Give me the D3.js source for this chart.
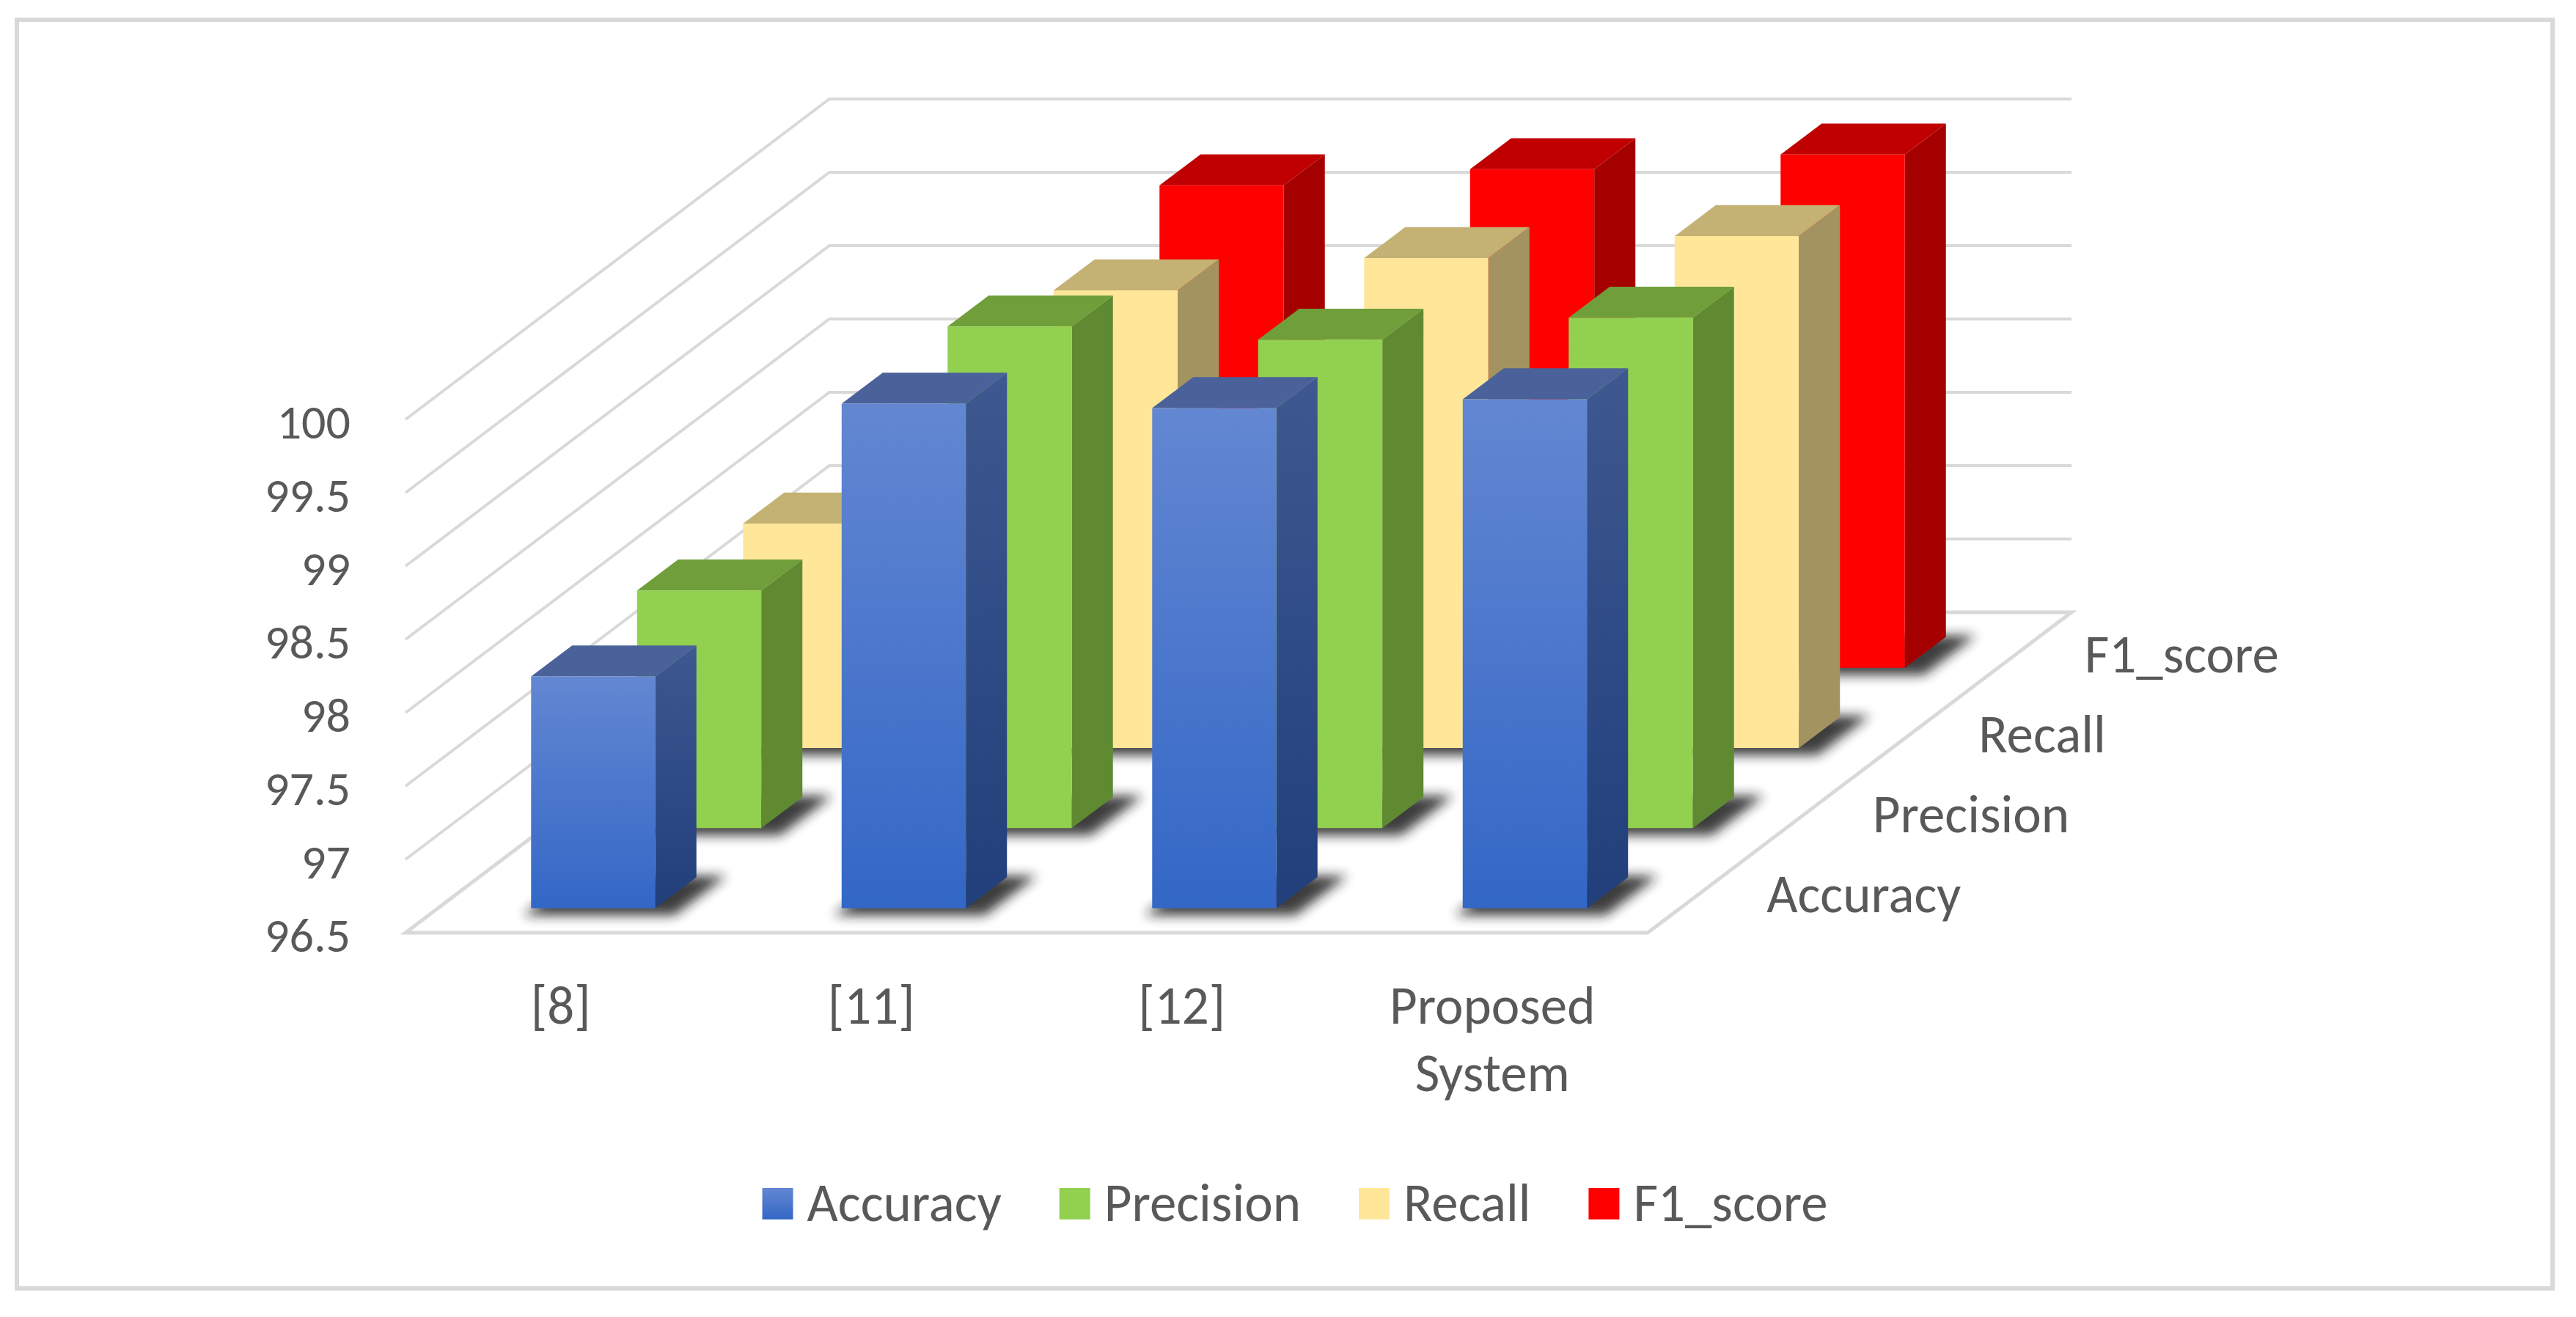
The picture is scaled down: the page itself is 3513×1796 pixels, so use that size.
<!DOCTYPE html>
<html>
<head>
<meta charset="utf-8">
<script src="https://cdn.jsdelivr.net/npm/d3@7"></script>
<style>
  body { margin: 0; background: #fff; }
  text { font-family: Carlito, Calibri, Lato, sans-serif; fill: #595959; }
</style>
</head>
<body>
<svg id="chart" width="3513" height="1796"></svg>
<script>
// dati
var categories = ["[8]", "[11]", "[12]", "Proposed System"];
var seriesNames = ["Accuracy", "Precision", "Recall", "F1_score"];
var accuracy = [98.08, 99.94, 99.91, 99.97];
var precision = [98.12, 99.92, 99.83, 99.98];
var recall = [98.03, 99.62, 99.84, 99.99];
var f1score = [98.05, 99.79, 99.90, 100.0];
var yTicks = [96.5, 97, 97.5, 98, 98.5, 99, 99.5, 100];

var seriesValues = [accuracy, precision, recall, f1score];

// colori delle facce: fronte (alto/basso), lato (alto/basso), sopra
var palette = [
  {front: ["#6387d2", "#3367c6"], side: ["#3e5891", "#213f7a"], top: "#4a6299", key: "#4472c4"},
  {front: ["#92d050", "#92d050"], side: ["#5f8a32", "#5f8a32"], top: "#6f9e3b", key: "#92d050"},
  {front: ["#ffe699", "#ffe699"], side: ["#a39360", "#a39360"], top: "#c4b174", key: "#ffe699"},
  {front: ["#ff0000", "#ff0000"], side: ["#a50000", "#a50000"], top: "#c00000", key: "#ff0000"}
];

var labelSize = "73px";
var tickSize = "66px";

var svg = d3.select("#chart");

// vettore di profondita' (proiezione obliqua)
var DX = 578, DY = -437;

var xScale = d3.scaleBand()
  .domain(categories)
  .range([553, 2247])
  .paddingInner(0.6)
  .paddingOuter(0.3);

var zScale = d3.scaleBand()
  .domain(seriesNames)
  .range([0, 1])
  .paddingInner(0.612)
  .paddingOuter(0.306);

var yScale = d3.scaleLinear()
  .domain([96.5, 100])
  .range([1272, 572]);

var base = yScale.domain()[0];

function proj(x, d, v) {
  return [x + d * DX, yScale(v) + d * DY];
}
function pts(list) {
  return list.map(function(p) { return p.join(","); }).join(" ");
}

// gradienti
var defs = svg.append("defs");
palette.forEach(function(c, i) {
  ["front", "side"].forEach(function(f) {
    var g = defs.append("linearGradient")
      .attr("id", f + i).attr("x1", 0).attr("y1", 0).attr("x2", 0).attr("y2", 1);
    g.append("stop").attr("offset", "0%").attr("stop-color", c[f][0]);
    g.append("stop").attr("offset", "100%").attr("stop-color", c[f][1]);
  });
});
defs.append("filter").attr("id", "blur")
  .attr("x", "-50%").attr("y", "-50%").attr("width", "200%").attr("height", "200%")
  .append("feGaussianBlur").attr("stdDeviation", 8);

// bordo esterno
svg.append("rect")
  .attr("x", 23).attr("y", 27).attr("width", 3458).attr("height", 1730)
  .attr("fill", "#fff").attr("stroke", "#d9d9d9").attr("stroke-width", 6);

// griglia: parete sinistra + parete di fondo
var x0 = xScale.range()[0], x1 = xScale.range()[1];
svg.append("g").selectAll("path")
  .data(yTicks)
  .enter()
  .append("path")
  .attr("d", function(v) {
    var a = proj(x0, 0, v), b = proj(x0, 1, v), c = proj(x1, 1, v);
    return "M" + a + "L" + b + "L" + c;
  })
  .attr("fill", "none")
  .attr("stroke", "#d9d9d9")
  .attr("stroke-width", 4);

// pavimento
svg.append("polygon")
  .attr("points", pts([proj(x0, 0, base), proj(x1, 0, base), proj(x1, 1, base), proj(x0, 1, base)]))
  .attr("fill", "none")
  .attr("stroke", "#d9d9d9")
  .attr("stroke-width", 5);

// etichette asse y
svg.append("g").selectAll("text")
  .data(yTicks)
  .enter()
  .append("text")
  .attr("x", 478)
  .attr("y", function(v) { return yScale(v) + 3; })
  .attr("text-anchor", "end")
  .attr("dominant-baseline", "central")
  .style("font-size", tickSize)
  .text(function(v) { return v; });

// dati delle barre, dal fondo verso il fronte
var bars = [];
for (var s = seriesNames.length - 1; s >= 0; s--) {
  categories.forEach(function(cat, i) {
    bars.push({cat: cat, s: s, v: seriesValues[s][i]});
  });
}

function geom(d) {
  var bx0 = xScale(d.cat), bx1 = bx0 + xScale.bandwidth();
  var d0 = zScale(seriesNames[d.s]), d1 = d0 + zScale.bandwidth();
  return {bx0: bx0, bx1: bx1, d0: d0, d1: d1};
}

// ombre sul pavimento
svg.append("g").selectAll("polygon")
  .data(bars)
  .enter()
  .append("polygon")
  .attr("points", function(d) {
    var g = geom(d);
    return pts([
      proj(g.bx0 - 20, g.d0 - 0.004, base),
      proj(g.bx1 + 16, g.d0 - 0.004, base),
      proj(g.bx1 + 16, g.d1 + 0.022, base),
      proj(g.bx0 - 20, g.d1 + 0.022, base)
    ].map(function(p) { return [p[0] + 12, p[1] + 8]; }));
  })
  .attr("fill", "#1a1a1a")
  .attr("opacity", 0.85)
  .attr("filter", "url(#blur)");

// barre 3D
var barG = svg.append("g").selectAll("g")
  .data(bars)
  .enter()
  .append("g");

barG.append("polygon")
  .attr("points", function(d) {
    var g = geom(d);
    return pts([proj(g.bx1, g.d0, base), proj(g.bx1, g.d1, base), proj(g.bx1, g.d1, d.v), proj(g.bx1, g.d0, d.v)]);
  })
  .attr("fill", function(d) { return "url(#side" + d.s + ")"; });

barG.append("polygon")
  .attr("points", function(d) {
    var g = geom(d);
    return pts([proj(g.bx0, g.d0, d.v), proj(g.bx1, g.d0, d.v), proj(g.bx1, g.d1, d.v), proj(g.bx0, g.d1, d.v)]);
  })
  .attr("fill", function(d) { return palette[d.s].top; });

barG.append("polygon")
  .attr("points", function(d) {
    var g = geom(d);
    return pts([proj(g.bx0, g.d0, base), proj(g.bx1, g.d0, base), proj(g.bx1, g.d0, d.v), proj(g.bx0, g.d0, d.v)]);
  })
  .attr("fill", function(d) { return "url(#front" + d.s + ")"; });

// etichette categorie
var catText = svg.append("g").selectAll("text")
  .data(categories)
  .enter()
  .append("text")
  .attr("x", function(d) { return xScale(d) + xScale.bandwidth() / 2; })
  .attr("y", 1371)
  .attr("text-anchor", "middle")
  .attr("dominant-baseline", "central")
  .style("font-size", labelSize);

catText.selectAll("tspan")
  .data(function(d) { return d.split(" "); })
  .enter()
  .append("tspan")
  .attr("x", function() { return d3.select(this.parentNode).attr("x"); })
  .attr("dy", function(d, i) { return i === 0 ? 0 : 92; })
  .text(function(d) { return d; });

// etichette serie (asse di profondita')
svg.append("g").selectAll("text")
  .data(seriesNames)
  .enter()
  .append("text")
  .attr("x", function(d) { return proj(x1, zScale(d) + zScale.bandwidth() / 2, base)[0] + 90; })
  .attr("y", function(d) { return proj(x1, zScale(d) + zScale.bandwidth() / 2, base)[1] + 2; })
  .attr("dominant-baseline", "central")
  .style("font-size", labelSize)
  .text(function(d) { return d; });

// legenda
var legend = svg.append("g");
var items = legend.selectAll("g")
  .data(seriesNames)
  .enter()
  .append("g");

items.append("rect")
  .attr("width", 42).attr("height", 43)
  .attr("y", 1620)
  .attr("fill", function(d, i) { return i === 0 ? "url(#front0)" : palette[i].key; });

items.append("text")
  .attr("x", 61)
  .attr("y", 1640)
  .attr("dominant-baseline", "central")
  .style("font-size", labelSize)
  .text(function(d) { return d; });

var pos = 0;
items.each(function() {
  var w = 61 + d3.select(this).select("text").node().getComputedTextLength();
  d3.select(this).attr("data-x", pos);
  pos += w + 79;
});
var total = pos - 79;
var startX = 1766 - total / 2;
items.attr("transform", function() {
  return "translate(" + (startX + (+d3.select(this).attr("data-x"))) + ",0)";
});
</script>
</body>
</html>
